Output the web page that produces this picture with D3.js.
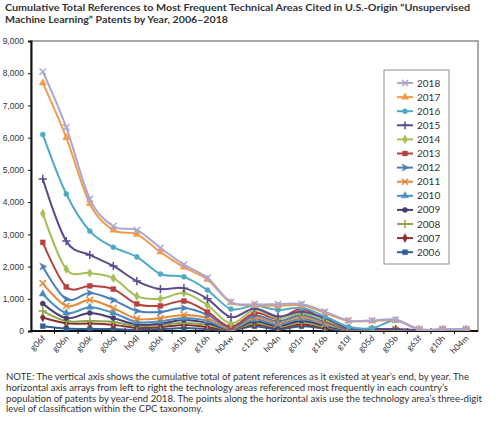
<!DOCTYPE html>
<html>
<head>
<meta charset="utf-8">
<script src="https://cdn.jsdelivr.net/npm/d3@7"></script>
<style>
  body { margin: 0; background: #fff; }
  svg { display: block; font-family: Lato, "Open Sans", sans-serif; }
</style>
</head>
<body>
<div class="chart"></div>
<script>
// technology areas, left to right
var categories = ["g06f", "g06n", "g06k", "g06q", "h04l", "g06t", "a61b", "g16h", "h04w", "c12q",
  "h04n", "g01n", "g16b", "g10l", "g05d", "g05b", "g63f", "g10h", "h04m"]

var years = ["2018", "2017", "2016", "2015", "2014", "2013", "2012", "2011", "2010", "2009", "2008", "2007", "2006"]

// cumulative references, one array per year
var v2018 = [8050, 6320, 4100, 3250, 3130, 2580, 2060, 1650, 900, 830, 830, 840, 600, 330, 330, 350, 60, 60, 60]
var v2017 = [7700, 6000, 3950, 3130, 3000, 2450, 1980, 1600, 880, 800, 780, 800, 560, 310, 310, 330, 50, 50, 50]
var v2016 = [6100, 4250, 3100, 2600, 2300, 1770, 1680, 1270, 680, 790, 650, 720, 450, 130, 90, 330, 40, 40, 40]
var v2015 = [4720, 2790, 2360, 2020, 1550, 1300, 1330, 1000, 430, 700, 450, 600, 400, 80, 60, 60, 30, 30, 30]
var v2014 = [3650, 1920, 1800, 1640, 1080, 1000, 1180, 800, 230, 650, 400, 550, 350, 70, 50, 50, 25, 25, 25]
var v2013 = [2750, 1370, 1400, 1300, 840, 780, 930, 590, 130, 560, 380, 680, 330, 60, 40, 40, 20, 20, 20]
var v2012 = [2000, 990, 1180, 960, 620, 590, 710, 500, 100, 480, 300, 500, 280, 50, 35, 35, 20, 20, 20]
var v2011 = [1480, 780, 960, 710, 380, 400, 500, 400, 80, 420, 250, 440, 230, 40, 30, 30, 15, 15, 15]
var v2010 = [1150, 560, 740, 560, 280, 300, 400, 310, 60, 360, 200, 380, 200, 35, 25, 25, 15, 15, 15]
var v2009 = [850, 400, 560, 400, 200, 230, 340, 250, 50, 300, 150, 320, 160, 30, 20, 20, 10, 10, 10]
var v2008 = [620, 310, 310, 280, 150, 190, 250, 190, 40, 250, 120, 260, 130, 25, 15, 15, 10, 10, 10]
var v2007 = [420, 240, 230, 190, 100, 120, 190, 120, 30, 200, 90, 200, 100, 20, 10, 10, 5, 5, 5]
var v2006 = [150, 80, 60, 60, 40, 60, 90, 60, 20, 150, 50, 150, 70, 15, 10, 10, 5, 5, 5]

var yTicks = [0, 1000, 2000, 3000, 4000, 5000, 6000, 7000, 8000, 9000]

var colors = ["#aaa6d2", "#f39a4c", "#4eaac6", "#5d4b8e", "#a4bf58", "#b8403e", "#4a7ebb",
  "#e88a3d", "#4a8fc0", "#483d70", "#8ea54f", "#8a2f2d", "#2f5f94"]
var markers = ["x", "triangle", "circle", "plus", "diamond", "square", "arrow",
  "x", "triangle", "circle", "plus", "diamond", "square"]

var valuesByYear = [v2018, v2017, v2016, v2015, v2014, v2013, v2012, v2011, v2010, v2009, v2008, v2007, v2006]

var series = years.map(function(y, i) {
  return { year: y, values: valuesByYear[i], color: colors[i], marker: markers[i] }
})

var width = 499
var height = 424
var svg = d3.select(".chart").append("svg")
  .attr("width", width)
  .attr("height", height)

// title
var title = svg.append("g")
  .attr("fill", "#333")
  .attr("font-weight", "bold")
  .attr("font-size", 10)
title.append("text").attr("x", 5).attr("y", 11)
  .attr("textLength", 465).attr("lengthAdjust", "spacingAndGlyphs")
  .text("Cumulative Total References to Most Frequent Technical Areas Cited in U.S.-Origin \u201cUnsupervised")
title.append("text").attr("x", 5).attr("y", 23)
  .attr("textLength", 223).attr("lengthAdjust", "spacingAndGlyphs")
  .text("Machine Learning\u201d Patents by Year, 2006\u20132018")

var x = d3.scaleBand().domain(categories).range([31, 478])
var y = d3.scaleLinear().domain([0, 9000]).range([331, 41])

var plot = svg.append("g")

// frame
plot.append("rect")
  .attr("x", x.range()[0]).attr("y", y(9000))
  .attr("width", x.range()[1] - x.range()[0]).attr("height", y(0) - y(9000))
  .attr("fill", "none").attr("stroke", "#8c8c8c").attr("stroke-width", 1.5)

// y axis
var yAxis = plot.append("g")
  .attr("transform", "translate(" + x.range()[0] + ",0)")
  .call(d3.axisLeft(y).tickValues(yTicks).tickSize(3).tickFormat(d3.format(",")))
yAxis.select(".domain").attr("stroke", "#111").attr("stroke-width", 2)
yAxis.selectAll(".tick line").attr("stroke", "#111")
yAxis.selectAll("text").attr("font-size", 8.5).attr("fill", "#333").attr("dx", -1)

// x axis with ticks between categories
var xAxis = plot.append("g")
  .attr("transform", "translate(0," + y(0) + ")")
xAxis.append("line")
  .attr("x1", x.range()[0]).attr("x2", x.range()[1])
  .attr("stroke", "#111").attr("stroke-width", 2)
xAxis.selectAll(".tk")
  .data(categories.slice(1))
  .enter().append("line")
  .attr("x1", function(d) { return x(d) }).attr("x2", function(d) { return x(d) })
  .attr("y1", -3).attr("y2", 3)
  .attr("stroke", "#111")
xAxis.selectAll(".lbl")
  .data(categories)
  .enter().append("text")
  .attr("transform", function(d) {
    return "translate(" + (x(d) + x.bandwidth() / 2 + 3) + ",8) rotate(-45)"
  })
  .attr("text-anchor", "end")
  .attr("font-size", 8.5)
  .attr("fill", "#333")
  .text(function(d) { return d })

var cx = function(i) { return x(categories[i]) + x.bandwidth() / 2 }

var line = d3.line()
  .x(function(d, i) { return cx(i) })
  .y(function(d) { return y(d) })
  .curve(d3.curveCatmullRom.alpha(0))

svg.append("clipPath").attr("id", "clip")
  .append("rect")
  .attr("x", x.range()[0]).attr("y", y(9000))
  .attr("width", x.range()[1] - x.range()[0]).attr("height", y(0) - y(9000))

function markerPath(type, s) {
  if (type == "x") return "M" + -s + "," + -s + "L" + s + "," + s + "M" + -s + "," + s + "L" + s + "," + -s
  if (type == "plus") return "M" + -s * 1.3 + ",0L" + s * 1.3 + ",0M0," + -s * 1.3 + "L0," + s * 1.3
  if (type == "triangle") return d3.symbol(d3.symbolTriangle, 22)()
  if (type == "circle") return d3.symbol(d3.symbolCircle, 20)()
  if (type == "square") return d3.symbol(d3.symbolSquare, 24)()
  if (type == "diamond") return d3.symbol(d3.symbolDiamond, 22)()
  if (type == "arrow") return "M-3,-3.5L4,0L-3,3.5L-1,0Z"
}
function isStroked(type) { return type == "x" || type == "plus" }

var lines = plot.append("g").attr("clip-path", "url(#clip)")
var drawOrder = series.slice().reverse()

var sg = lines.selectAll(".series")
  .data(drawOrder)
  .enter().append("g")
  .attr("class", "series")

sg.append("path")
  .attr("d", function(d) { return line(d.values) })
  .attr("fill", "none")
  .attr("stroke", function(d) { return d.color })
  .attr("stroke-width", 2)

sg.selectAll(".pt")
  .data(function(d) { return d.values.map(function(v, i) { return { v: v, i: i, s: d } }) })
  .enter().append("path")
  .attr("transform", function(d) { return "translate(" + cx(d.i) + "," + y(d.v) + ")" })
  .attr("d", function(d) { return markerPath(d.s.marker, 3.2) })
  .attr("fill", function(d) { return isStroked(d.s.marker) ? "none" : d.s.color })
  .attr("stroke", function(d) { return d.s.color })
  .attr("stroke-width", function(d) { return isStroked(d.s.marker) ? 1.5 : 0.5 })

// legend
var legend = svg.append("g")
legend.append("rect")
  .attr("x", 384).attr("y", 70).attr("width", 65).attr("height", 194)
  .attr("fill", "#fff").attr("stroke", "#8c8c8c")

var le = legend.selectAll(".le")
  .data(series)
  .enter().append("g")
  .attr("transform", function(d, i) { return "translate(397," + (83 + i * 14.1) + ")" })
le.append("line")
  .attr("x1", 0).attr("x2", 16)
  .attr("stroke", function(d) { return d.color }).attr("stroke-width", 2)
le.append("path")
  .attr("transform", "translate(8,0)")
  .attr("d", function(d) { return markerPath(d.marker, 3) })
  .attr("fill", function(d) { return isStroked(d.marker) ? "none" : d.color })
  .attr("stroke", function(d) { return d.color })
  .attr("stroke-width", function(d) { return isStroked(d.marker) ? 1.5 : 0.5 })
le.append("text")
  .attr("x", 20).attr("y", 3.5)
  .attr("font-size", 10)
  .attr("fill", "#333")
  .text(function(d) { return d.year })

// note
var noteLines = [
  ["NOTE: The vertical axis shows the cumulative total of patent references as it existed at year\u2019s end, by year. The", 463],
  ["horizontal axis arrays from left to right the technology areas referenced most frequently in each country\u2019s", 442],
  ["population of patents by year-end 2018. The points along the horizontal axis use the technology area\u2019s three-digit", 476],
  ["level of classification within the CPC taxonomy.", 197]
]
svg.append("g").selectAll("text")
  .data(noteLines)
  .enter().append("text")
  .attr("x", 6)
  .attr("y", function(d, i) { return 380 + i * 10.8 })
  .attr("font-size", 8.8)
  .attr("fill", "#333")
  .attr("textLength", function(d) { return d[1] })
  .attr("lengthAdjust", "spacingAndGlyphs")
  .text(function(d) { return d[0] })
</script>
</body>
</html>
